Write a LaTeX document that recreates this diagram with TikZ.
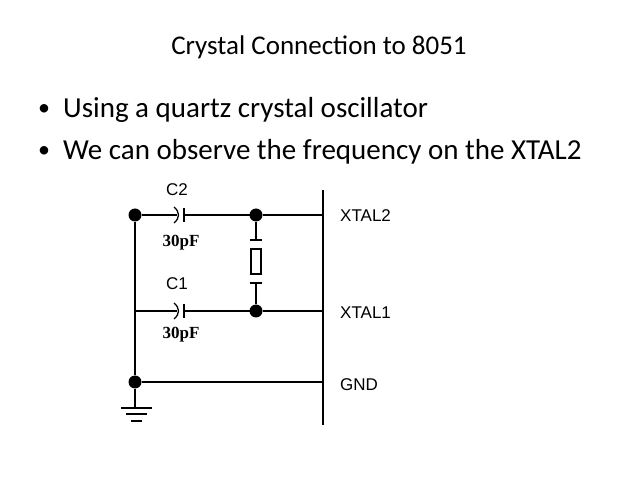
\documentclass[tikz,border=0pt]{standalone}
\usepackage{fontspec}
\setmainfont{Carlito}
\newfontfamily\arialf{Liberation Sans}
\newfontfamily\timesf{Liberation Serif}
\begin{document}
\begin{tikzpicture}[x=1pt,y=-1pt,
  wire/.style={line width=1.3pt},
  dot/.style={circle,fill=black,inner sep=0pt,minimum size=13pt},
  lab/.style={font=\arialf\fontsize{17}{20}\selectfont,anchor=west,inner sep=0pt},
  val/.style={font=\timesf\bfseries\fontsize{17}{20}\selectfont,inner sep=0pt},
  txt/.style={font=\fontsize{29}{34}\selectfont,anchor=west,inner sep=0pt},
  bul/.style={font=\fontsize{24}{28}\selectfont,inner sep=0pt}]
\useasboundingbox (0,0) rectangle (638,478);
\node[font=\fontsize{27}{32}\selectfont] (title) at (319,47) {Crystal Connection to 8051};
\node[bul] (b1) at (44,110) {•};
\node[txt] (t1) at (63,110) {Using a quartz crystal oscillator};
\node[bul] (b2) at (44,152) {•};
\node[txt] (t2) at (63,152) {We can observe the frequency on the XTAL2};
% nodes
\node[dot] (L2) at (135,215) {};
\node[dot] (X2) at (256,215) {};
\node[dot] (X1) at (256,311) {};
\node[dot] (G) at (135,382) {};
\coordinate (L1) at (135,311);
\coordinate (B2) at (323,215);
\coordinate (B1) at (323,311);
\coordinate (BG) at (323,382);
\coordinate (Gb) at (135,408);
\draw[wire] (323,190) -- (323,425);
\draw[wire] (L2) -- (G) -- (BG);
\draw[wire] (G) -- (Gb);
\draw[wire] (121,408) -- (152,408) (126,414) -- (147,414) (131,421) -- (142,421);
% capacitors
\foreach \y/\a in {215/L2,311/L1}{
  \draw[wire] (\a) -- (177,\y);
  \draw[wire] (174,\y-8) .. controls (180,\y-3) and (180,\y+3) .. (174,\y+8);
  \draw[wire] (184,\y-7) -- (184,\y+7);
  \draw[wire] (184,\y) -- (256,\y);
}
\draw[wire] (X2) -- (B2);
\draw[wire] (X1) -- (B1);
% crystal
\draw[wire] (X2) -- (256,240) (250,240) -- (262,240);
\draw[line width=1.2pt] (251,249) rectangle (261,274);
\draw[wire] (250,283) -- (262,283) (256,283) -- (X1);
\node[lab] (c2) at (166,190) {C2};
\node[lab] (c1) at (166,284) {C1};
\node[val] (v2) at (181,243) {30pF};
\node[val] (v1) at (181,335) {30pF};
\node[lab] (x2l) at (340,216) {XTAL2};
\node[lab] (x1l) at (340,313) {XTAL1};
\node[lab] (gl) at (340,385) {GND};
\end{tikzpicture}
\end{document}
